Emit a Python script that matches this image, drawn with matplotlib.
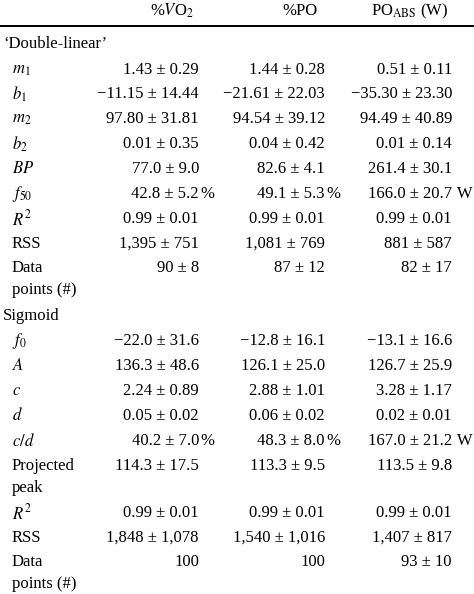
import matplotlib
matplotlib.use("Agg")
import matplotlib.pyplot as plt

plt.rcParams['font.family'] = ['Liberation Serif', 'DejaVu Serif']
plt.rcParams['mathtext.fontset'] = 'stix'

columns = [r"%$\mathit{V}$O$_2$", "%PO", r"PO$_{\mathrm{ABS}}$ (W)"]
row_labels = ["‘Double-linear’", r"$m_1$", r"$b_1$", r"$m_2$", r"$b_2$", r"$BP$", r"$f_{50}$",
              r"$R^2$", "RSS", "Data\npoints (#)", "Sigmoid", r"$f_0$", r"$A$", r"$c$", r"$d$",
              r"$c/d$", "Projected\npeak", r"$R^2$", "RSS", "Data\npoints (#)"]
col1 = ["", "1.43 ± 0.29", "−11.15 ± 14.44", "97.80 ± 31.81", "0.01 ± 0.35", "77.0 ± 9.0",
        "42.8 ± 5.2|%", "0.99 ± 0.01", "1,395 ± 751", "90 ± 8", "", "−22.0 ± 31.6",
        "136.3 ± 48.6", "2.24 ± 0.89", "0.05 ± 0.02", "40.2 ± 7.0|%", "114.3 ± 17.5",
        "0.99 ± 0.01", "1,848 ± 1,078", "100"]
col2 = ["", "1.44 ± 0.28", "−21.61 ± 22.03", "94.54 ± 39.12", "0.04 ± 0.42", "82.6 ± 4.1",
        "49.1 ± 5.3|%", "0.99 ± 0.01", "1,081 ± 769", "87 ± 12", "", "−12.8 ± 16.1",
        "126.1 ± 25.0", "2.88 ± 1.01", "0.06 ± 0.02", "48.3 ± 8.0|%", "113.3 ± 9.5",
        "0.99 ± 0.01", "1,540 ± 1,016", "100"]
col3 = ["", "0.51 ± 0.11", "−35.30 ± 23.30", "94.49 ± 40.89", "0.01 ± 0.14", "261.4 ± 30.1",
        "166.0 ± 20.7| W", "0.99 ± 0.01", "881 ± 587", "82 ± 17", "", "−13.1 ± 16.6",
        "126.7 ± 25.9", "3.28 ± 1.17", "0.02 ± 0.01", "167.0 ± 21.2| W", "113.5 ± 9.8",
        "0.99 ± 0.01", "1,407 ± 817", "93 ± 10"]

row_y = [44, 70, 94, 119, 144, 169, 194, 219, 244, 279, 316, 341, 366, 391, 416, 441, 477,
         513, 538, 573]

W, H = 474, 594
fig = plt.figure(figsize=(W/100, H/100), dpi=100)
ax = fig.add_axes([0, 0, 1, 1])
ax.set_xlim(0, W); ax.set_ylim(H, 0); ax.axis('off')
fs = 12

for x, c in zip([172, 300, 410], columns):
    ax.text(x, 11, c, ha='center', va='center', fontsize=fs)
ax.plot([0, W], [26, 26], color='black', lw=1.4)

col_right = [199, 325, 452]
for i, (lab, y) in enumerate(zip(row_labels, row_y)):
    sec = lab in ("‘Double-linear’", "Sigmoid")
    ax.text(3 if sec else 12, y, lab, ha='left', va='center', fontsize=fs, linespacing=1.5)
    for xr, col in zip(col_right, (col1, col2, col3)):
        v = col[i]
        if not v:
            continue
        if "|" in v:
            num, suf = v.split("|")
            ax.text(xr, y, num, ha='right', va='center', fontsize=fs)
            ax.text(xr + 1, y, suf, ha='left', va='center', fontsize=fs)
        else:
            yy = y - 11 if "\n" in lab else y
            ax.text(xr, yy, v, ha='right', va='center', fontsize=fs)

fig.savefig("out.png", dpi=100)
